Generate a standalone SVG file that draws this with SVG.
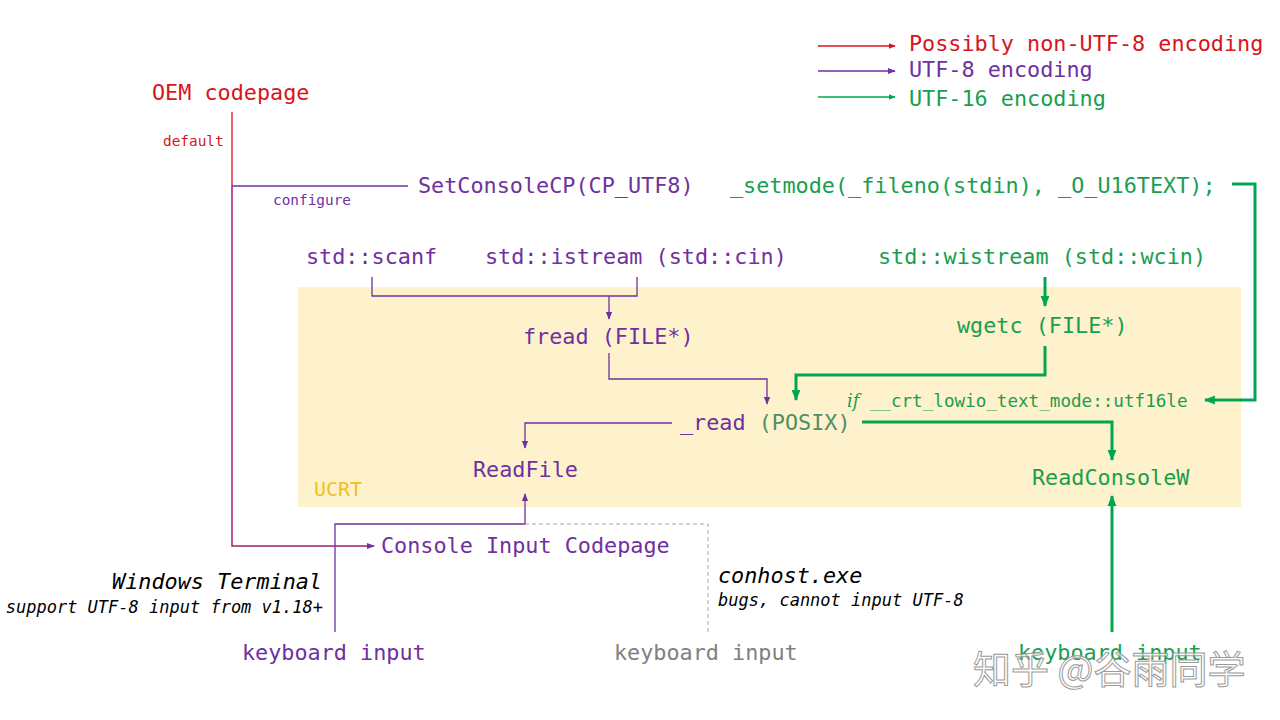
<svg xmlns="http://www.w3.org/2000/svg" width="1280" height="720" viewBox="0 0 1280 720">
<style>
text{font-family:"DejaVu Sans Mono","Liberation Mono",monospace;font-size:21.8px}
.r{fill:#d8141c}.p{fill:#7030a0}.g{fill:#1a9e4e}.k{fill:#000}.gr{fill:#808080}
.s{font-size:14.4px}.m{font-size:17px}.c{font-size:17.6px}
.it{font-style:italic}
.lr{stroke:#d8141c;stroke-width:1.3;fill:none}
.lp{stroke:#7030a0;stroke-width:1.3;fill:none}
.lg{stroke:#00a651;stroke-width:3;fill:none}
.lg1{stroke:#00a651;stroke-width:1.3;fill:none}
.lm{stroke:#a0206a;stroke-width:1.5;fill:none}
.ld{stroke:#a6a6a6;stroke-width:1;fill:none;stroke-dasharray:4 3}
</style>
<defs>
<marker id="ar" viewBox="0 0 10 10" refX="9" refY="5" markerWidth="7" markerHeight="7" markerUnits="userSpaceOnUse" orient="auto"><path d="M0,1 L10,5 L0,9 z" fill="#d8141c"/></marker>
<marker id="ap" viewBox="0 0 10 10" refX="9" refY="5" markerWidth="8" markerHeight="8" markerUnits="userSpaceOnUse" orient="auto"><path d="M0,1 L10,5 L0,9 z" fill="#7030a0"/></marker>
<marker id="ag" viewBox="0 0 10 10" refX="9" refY="5" markerWidth="11" markerHeight="11" markerUnits="userSpaceOnUse" orient="auto"><path d="M0,1 L10,5 L0,9 z" fill="#00a651"/></marker>
<marker id="ag1" viewBox="0 0 10 10" refX="9" refY="5" markerWidth="7" markerHeight="7" markerUnits="userSpaceOnUse" orient="auto"><path d="M0,1 L10,5 L0,9 z" fill="#00a651"/></marker>
</defs>
<rect width="1280" height="720" fill="#fff"/>
<g id="ucrt">
<rect x="298" y="287" width="943" height="220" fill="#fef2cd"/>
<text x="314" y="496" style="fill:#f0c020;font-family:'DejaVu Sans Mono',monospace;font-size:20px">UCRT</text>
</g>
<g id="legend">
<line x1="818" y1="46" x2="895" y2="46" class="lr" marker-end="url(#ar)"/>
<line x1="818" y1="71" x2="895" y2="71" class="lp" marker-end="url(#ap)"/>
<line x1="818" y1="97" x2="895" y2="97" class="lg1" marker-end="url(#ag1)"/>
<text x="909" y="51" class="r">Possibly non-UTF-8 encoding</text>
<text x="909" y="77" class="p">UTF-8 encoding</text>
<text x="909" y="106" class="g">UTF-16 encoding</text>
</g>
<g id="connectors">
<polyline points="232,112 232,186" class="lr"/>
<polyline points="232,186 232,546 374,546" class="lm" marker-end="url(#ap)"/>
<line x1="232" y1="186" x2="408" y2="186" class="lp"/>
<polyline points="1232,184 1255,184 1255,400 1205,400" class="lg" marker-end="url(#ag)"/>
<polyline points="372,277 372,296 637,296 637,277" class="lp"/>
<line x1="609" y1="296" x2="609" y2="319" class="lp" marker-end="url(#ap)"/>
<polyline points="609,353 609,379 767,379 767,404" class="lp" marker-end="url(#ap)"/>
<line x1="1045" y1="277" x2="1045" y2="306" class="lg" marker-end="url(#ag)"/>
<polyline points="1045,346 1045,375 796,375 796,400" class="lg" marker-end="url(#ag)"/>
<polyline points="672,423 525,423 525,448" class="lp" marker-end="url(#ap)"/>
<polyline points="862,422 1112,422 1112,460" class="lg" marker-end="url(#ag)"/>
<line x1="1112" y1="632" x2="1112" y2="496" class="lg" marker-end="url(#ag)"/>
<polyline points="335,632 335,524 525,524 525,494" class="lp" marker-end="url(#ap)"/>
<polyline points="525,524 708,524 708,632" class="ld"/>
</g>
<g id="oem"><text x="152" y="100" class="r">OEM codepage</text></g>
<g id="default"><text x="163" y="146" class="r s">default</text></g>
<g id="configure"><text x="273" y="205" class="p s">configure</text></g>
<g id="setconsolecp"><text x="418" y="193" class="p">SetConsoleCP(CP_UTF8)</text></g>
<g id="setmode"><text x="730" y="193" class="g">_setmode(_fileno(stdin), _O_U16TEXT);</text></g>
<g id="scanf"><text x="306" y="264" class="p">std::scanf</text></g>
<g id="istream"><text x="485" y="264" class="p">std::istream (std::cin)</text></g>
<g id="wistream"><text x="878" y="264" class="g">std::wistream (std::wcin)</text></g>
<g id="fread"><text x="523" y="344" class="p">fread (FILE*)</text></g>
<g id="wgetc"><text x="957" y="333" class="g">wgetc (FILE*)</text></g>
<g id="cond"><text x="847" y="407" class="g c"><tspan style="font-family:'DejaVu Serif','Liberation Serif',serif;font-style:italic">if</tspan> __crt_lowio_text_mode::utf16le</text></g>
<g id="read"><text x="680" y="430" class="p">_read <tspan style="fill:#4f8f68">(POSIX)</tspan></text></g>
<g id="readfile"><text x="473" y="477" class="p">ReadFile</text></g>
<g id="readconsolew"><text x="1032" y="485" class="g">ReadConsoleW</text></g>
<g id="cicp"><text x="381" y="553" class="p">Console Input Codepage</text></g>
<g id="wt">
<text x="322" y="589" class="k it" text-anchor="end">Windows Terminal</text>
<text x="323" y="613" class="k it m" text-anchor="end">support UTF-8 input from v1.18+</text>
</g>
<g id="conhost">
<text x="718" y="583" class="k it">conhost.exe</text>
<text x="718" y="606" class="k it m">bugs, cannot input UTF-8</text>
</g>
<g id="kb1"><text x="242" y="660" class="p">keyboard input</text></g>
<g id="kb2"><text x="614" y="660" class="gr">keyboard input</text></g>
<g id="kb3"><text x="1018" y="660" class="g">keyboard input</text></g>
<g id="watermark"><text x="973" y="683" style="font-family:'Noto Sans CJK SC',sans-serif;font-size:38px;fill:#ffffff;fill-opacity:0.6;stroke:#9a9a9a;stroke-width:1">知乎 @谷雨同学</text></g>
</svg>
